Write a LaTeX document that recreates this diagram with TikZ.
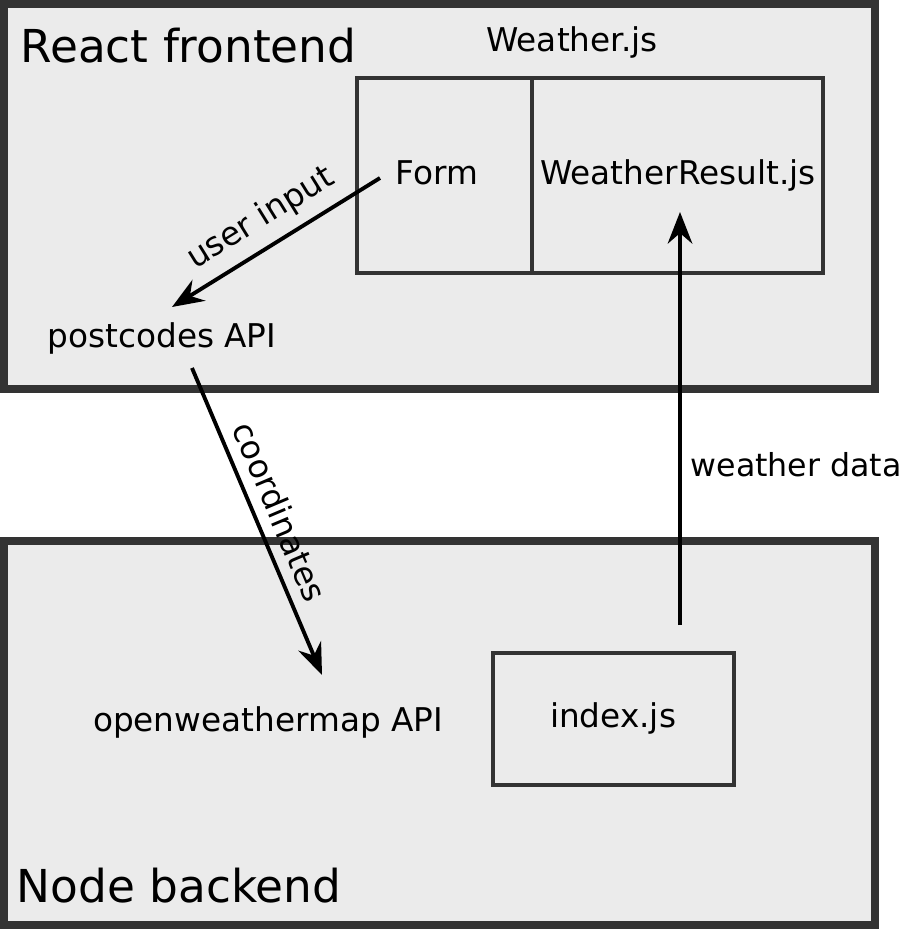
\documentclass[tikz,border=0pt]{standalone}
\usepackage{fontspec}
\setmainfont{DejaVu Sans}
\usetikzlibrary{arrows.meta}
\begin{document}
\begin{tikzpicture}[x=0.01cm,y=-0.01cm,
  outer/.style={draw=black!80,line width=2.3pt,fill=black!8},
  inner/.style={draw=black!80,line width=0.9pt},
  arr/.style={-{Stealth[length=9pt,width=7pt,inset=3pt]},line width=1.1pt},
  lbl/.style={font=\fontsize{9.3pt}{11pt}\selectfont,inner sep=1pt},
  big/.style={font=\fontsize{12.9pt}{15pt}\selectfont,inner sep=0pt}]
\useasboundingbox (0,0) rectangle (902,931);
\draw[outer] (4,4) rectangle (875,389);
\draw[outer] (4,541) rectangle (875,925);
\draw[inner] (357,78) rectangle (823,273);
\draw[inner] (532,78) -- (532,273);
\draw[inner] (493,653) rectangle (734,785);
\node[big,anchor=west] (rf) at (20,46) {React frontend};
\node[big,anchor=west] (nb) at (16,886) {Node backend};
\node[lbl] (wjs) at (572,42) {Weather.js};
\node[lbl] (form) at (437,173) {Form};
\node[lbl] (wr) at (678,175) {WeatherResult.js};
\node[lbl] (pc) at (162,338) {postcodes API};
\node[lbl] (owm) at (268,722) {openweathermap API};
\node[lbl] (idx) at (613,718) {index.js};
\coordinate (a1) at (380,178); \coordinate (a2) at (172,307);
\coordinate (b1) at (192,368); \coordinate (b2) at (322,675);
\coordinate (c1) at (680,625); \coordinate (c2) at (680,212);
\draw[arr] (a1) -- node[lbl,sloped,above=2pt] {user input} (a2);
\draw[arr] (b1) -- node[lbl,sloped,above=2pt,pos=0.5] {coordinates} (b2);
\draw[arr] (c1) -- (c2);
\node[lbl,font=\fontsize{9pt}{11pt}\selectfont,anchor=west,inner sep=0pt] (wd) at (690,465) {weather data};
\end{tikzpicture}
\end{document}
